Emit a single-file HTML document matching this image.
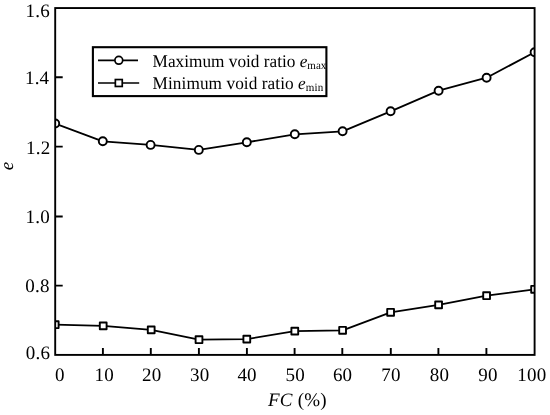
<!DOCTYPE html>
<html><head><meta charset="utf-8"><title>Void ratio vs FC</title>
<style>
html,body{margin:0;padding:0;background:#fff;}
body{width:550px;height:415px;overflow:hidden;}
svg{display:block;text-rendering:geometricPrecision;}
text{font-family:"Liberation Serif","Times New Roman",serif;font-size:19px;fill:#000;letter-spacing:0.2px;}
.i{font-style:italic;}
.lg{font-size:17.8px;letter-spacing:0;}
.sb{font-size:11.4px;}
</style></head><body>
<svg width="550" height="415" viewBox="0 0 550 415">
<rect width="550" height="415" fill="#fff"/>
<defs><clipPath id="c"><rect x="55.2" y="0" width="479.4" height="415"/></clipPath></defs>

<g clip-path="url(#c)" fill="none" stroke="#000" stroke-width="1.8" stroke-linejoin="round">
<polyline points="55.2,123.5 102.8,141.3 150.6,144.9 198.8,149.9 246.8,142.3 294.8,134.3 342.6,131.3 390.6,111.3 438.6,90.7 486.6,77.7 534.6,52.3"/>
<polyline points="55.2,324.7 103.2,325.9 151.2,329.9 199.0,339.7 246.8,339.1 294.8,331.1 342.6,330.3 390.6,312.3 438.6,304.9 486.6,295.7 534.6,289.3"/>
<g fill="#fff" stroke-width="1.9">
<circle cx="55.2" cy="123.5" r="4.0"/>
<circle cx="102.8" cy="141.3" r="4.0"/>
<circle cx="150.6" cy="144.9" r="4.0"/>
<circle cx="198.8" cy="149.9" r="4.0"/>
<circle cx="246.8" cy="142.3" r="4.0"/>
<circle cx="294.8" cy="134.3" r="4.0"/>
<circle cx="342.6" cy="131.3" r="4.0"/>
<circle cx="390.6" cy="111.3" r="4.0"/>
<circle cx="438.6" cy="90.7" r="4.0"/>
<circle cx="486.6" cy="77.7" r="4.0"/>
<circle cx="534.6" cy="52.3" r="4.0"/>
<rect x="51.8" y="321.3" width="6.8" height="6.8"/>
<rect x="99.8" y="322.5" width="6.8" height="6.8"/>
<rect x="147.8" y="326.5" width="6.8" height="6.8"/>
<rect x="195.6" y="336.3" width="6.8" height="6.8"/>
<rect x="243.4" y="335.7" width="6.8" height="6.8"/>
<rect x="291.4" y="327.7" width="6.8" height="6.8"/>
<rect x="339.2" y="326.9" width="6.8" height="6.8"/>
<rect x="387.2" y="308.9" width="6.8" height="6.8"/>
<rect x="435.2" y="301.5" width="6.8" height="6.8"/>
<rect x="483.2" y="292.3" width="6.8" height="6.8"/>
<rect x="531.2" y="285.9" width="6.8" height="6.8"/>
</g></g>
<g fill="none" stroke="#000" stroke-width="1.9">
<rect x="55.2" y="8.05" width="479.4" height="346.85"/>
<path d="M102.9 354.9v-6.8M150.8 354.9v-6.8M198.9 354.9v-6.8M246.9 354.9v-6.8M294.6 354.9v-6.8M342.3 354.9v-6.8M390.8 354.9v-6.8M438.4 354.9v-6.8M486.4 354.9v-6.8M55.2 77.3h7.5M55.2 146.6h7.5M55.2 216.5h7.5M55.2 285.6h7.5"/>
</g>
<g fill="#fff" stroke="#000" stroke-width="2.1"><rect x="92.9" y="47.2" width="233.5" height="48.9"/></g>
<g fill="#fff" stroke="#000" stroke-width="1.7"><path d="M98 60.3h40M98 83h41.2"/><circle cx="118.8" cy="60.3" r="3.9"/><rect x="115.35" y="79.55" width="6.9" height="6.9"/></g>
<text transform="translate(152.6,66.5) scale(0.97,1)" class="lg">Maximum void ratio <tspan class="i">e</tspan><tspan class="sb" dy="2.6">max</tspan></text>
<text transform="translate(152.6,88.8) scale(0.97,1)" class="lg" style="letter-spacing:0.07px">Minimum void ratio <tspan class="i">e</tspan><tspan class="sb" dy="2.6">min</tspan></text>
<text x="25.6" y="17">1.6</text>
<text x="24.95" y="84">1.4</text>
<text x="26.1" y="154">1.2</text>
<text x="25.5" y="223">1.0</text>
<text x="25.35" y="292">0.8</text>
<text x="25.75" y="359">0.6</text>
<text x="55.1" y="381">0</text>
<text x="94.55" y="381">10</text>
<text x="142.05" y="381">20</text>
<text x="190.0" y="381">30</text>
<text x="237.4" y="381">40</text>
<text x="285.55" y="381">50</text>
<text x="332.9" y="381">60</text>
<text x="381.35" y="381">70</text>
<text x="429.85" y="381">80</text>
<text x="478.2" y="381">90</text>
<text x="517.3" y="381">100</text>
<text x="268" y="405.8"><tspan class="i">FC</tspan> (%)</text>
<text class="i" transform="translate(13,170.3) rotate(-90)">e</text>
</svg></body></html>
